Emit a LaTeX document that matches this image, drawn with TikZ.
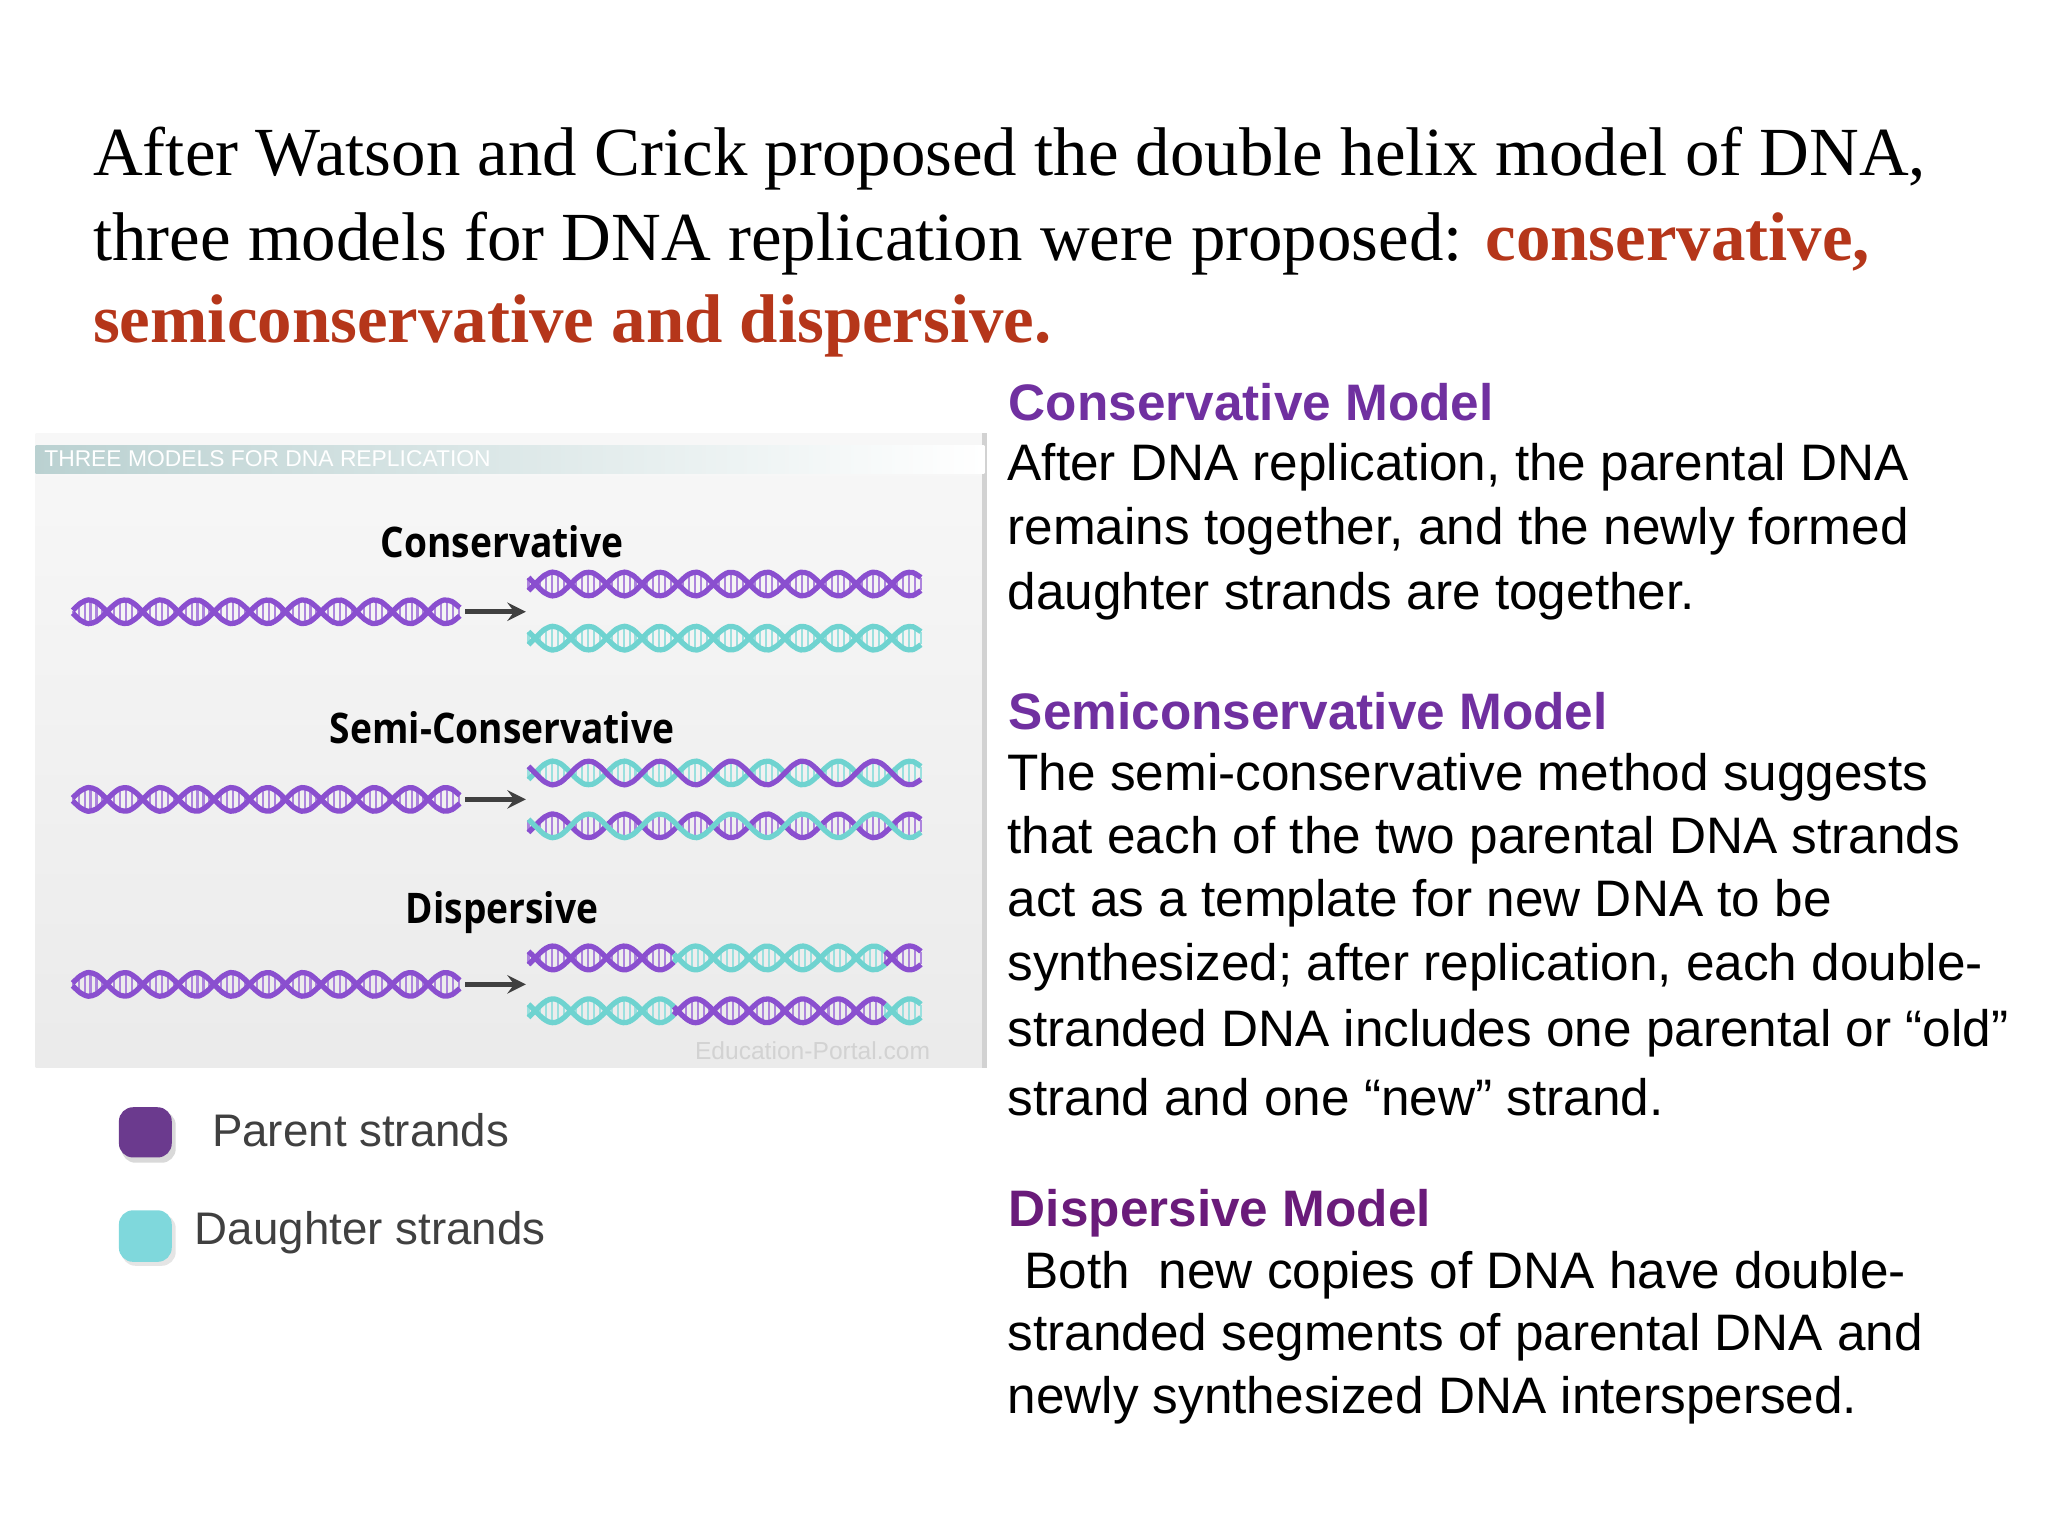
\documentclass[tikz,border=0pt]{standalone}
\usepackage{fontspec}
\setmainfont{Liberation Serif}
\setsansfont{Liberation Sans}
\newfontfamily\cond{Open Sans}
\definecolor{hdpurple}{HTML}{7030A0}
\definecolor{hdpurple2}{HTML}{6A1B7A}
\definecolor{redt}{HTML}{B5361A}
\definecolor{par}{HTML}{8A4FCF}
\definecolor{dau}{HTML}{6FD3D0}
\definecolor{parsq}{HTML}{6B3A8E}
\definecolor{dausq}{HTML}{7FD8DC}
\tikzset{
 title/.style={anchor=base west,font=\fontsize{19.6}{19.6}\selectfont,inner sep=0},
 body/.style={anchor=base west,font=\sffamily\fontsize{14.6}{14.6}\selectfont,inner sep=0},
 head/.style={anchor=base west,font=\sffamily\bfseries\fontsize{14.6}{14.6}\selectfont,text=hdpurple,inner sep=0},
 modlab/.style={font=\cond\bfseries\fontsize{12}{12}\selectfont,inner sep=0,xscale=0.88},
 legend/.style={anchor=west,font=\sffamily\fontsize{13}{13}\selectfont,text=black!75,inner sep=0},
}
% helix segment: x0,x1,y,colour strand A, colour strand B
\newcommand{\hseg}[5]{%
 \pgfmathsetmacro\hsecond{#1+4.5}%
 \draw[#4!70,line width=0.6pt] foreach \xx in {#1,\hsecond,...,#2} {(\xx,{#3-8*sin(\xx*6.6667)}) -- (\xx,{#3+8*sin(\xx*6.6667)})};
 \draw[#4,line width=1.5pt] plot[domain=#1:#2,samples=50,smooth] (\x,{#3+9*sin(\x*6.6667)});
 \draw[#5,line width=1.5pt] plot[domain=#1:#2,samples=50,smooth] (\x,{#3-9*sin(\x*6.6667)});
}
\begin{document}
\begin{tikzpicture}[x=0.013213cm,y=-0.013213cm]
\useasboundingbox (0,0) rectangle (1550,1162.5);
\fill[white] (0,0) rectangle (1550,1162.5);
% title
\node[title] (t1) at (70,133) {After Watson and Crick proposed the double helix model of DNA,};
\node[title] (t2) at (70,197) {three models for DNA replication were proposed: \textcolor{redt}{\bfseries conservative,}};
\node[title,text=redt,font=\bfseries\fontsize{19.6}{19.6}\selectfont] (t3) at (70,259) {semiconservative and dispersive.};
% image panel
\shade[top color=gray!6,bottom color=gray!16] (27,328) rectangle (745,808);
\draw[gray!35,line width=1.5pt] (745,328) -- (745,808);
\shade[left color=cyan!20!gray!45,right color=white] (27,337) rectangle (745,358);
\node[anchor=west,font=\sffamily\fontsize{6.5}{6.5}\selectfont,text=white,inner sep=0] (hdr) at (33,347) {THREE MODELS FOR DNA REPLICATION};
\node[modlab] (lc) at (380,410) {Conservative};
\node[modlab] (ls) at (380,551) {Semi-Conservative};
\node[modlab] (ld) at (380,691) {Dispersive};
% conservative
\hseg{55}{348}{463}{par}{par}
\hseg{400}{697}{442}{par}{par}
\hseg{400}{697}{483}{dau}{dau}
% semi
\hseg{55}{348}{605}{par}{par}
\hseg{400}{697}{585}{dau}{par}
\hseg{400}{697}{625}{par}{dau}
% dispersive
\hseg{55}{348}{745}{par}{par}
\hseg{400}{510}{725}{par}{par}
\hseg{510}{670}{725}{dau}{dau}
\hseg{670}{697}{725}{par}{par}
\hseg{400}{510}{765}{dau}{dau}
\hseg{510}{670}{765}{par}{par}
\hseg{670}{697}{765}{dau}{dau}
\coordinate (a1) at (352,463); \coordinate (b1) at (398,463);
\coordinate (a2) at (352,605); \coordinate (b2) at (398,605);
\coordinate (a3) at (352,745); \coordinate (b3) at (398,745);
\foreach \i in {1,2,3} \draw[black!75,line width=1.3pt,-stealth] (a\i) -- (b\i);
\node[font=\sffamily\fontsize{7}{7}\selectfont,text=gray!35,inner sep=0] (wm) at (615,795) {Education-Portal.com};
% legend
\fill[black!15,rounded corners=4] (92,841) rectangle (133,880);
\fill[parsq,rounded corners=4] (90,838) rectangle (130,876);
\fill[black!10,rounded corners=4] (92,919) rectangle (133,958);
\fill[dausq,rounded corners=4] (90,916) rectangle (130,955);
\node[legend] (lp) at (160,855) {Parent strands};
\node[legend] (ldd) at (147,933) {Daughter strands};
% right text
\node[head] (h1) at (763,318) {Conservative Model};
\node[body] (c1) at (762,364) {After DNA replication, the parental DNA};
\node[body] (c2) at (762,412) {remains together, and the newly formed};
\node[body] (c3) at (762,461) {daughter strands are together.};
\node[head] (h2) at (763,552) {Semiconservative Model};
\node[body] (s1) at (762,598) {The semi-conservative method suggests};
\node[body] (s2) at (762,646) {that each of the two parental DNA strands};
\node[body] (s3) at (762,694) {act as a template for new DNA to be};
\node[body] (s4) at (762,742) {synthesized; after replication, each double-};
\node[body] (s5) at (762,792) {stranded DNA includes one parental or “old”};
\node[body] (s6) at (762,844) {strand and one “new” strand.};
\node[head,text=hdpurple2] (h3) at (763,928) {Dispersive Model};
\node[body] (d1) at (775,975) {Both\ \ new copies of DNA have double-};
\node[body] (d2) at (762,1022) {stranded segments of parental DNA and};
\node[body] (d3) at (762,1070) {newly synthesized DNA interspersed.};
\end{tikzpicture}
\end{document}
